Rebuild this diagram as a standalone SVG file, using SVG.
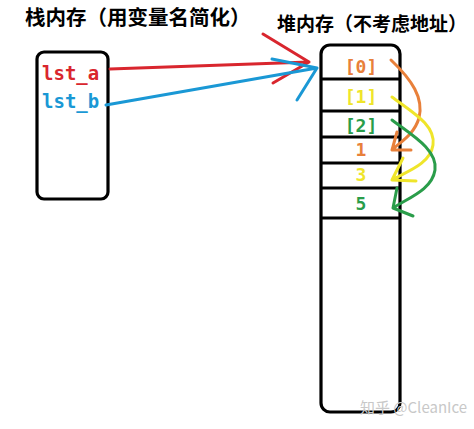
<svg xmlns="http://www.w3.org/2000/svg" width="474" height="429" viewBox="0 0 474 429">
<style>
.title{font-family:"Noto Sans CJK SC","Noto Sans",sans-serif;font-weight:bold;fill:#000}
.box{fill:#fff;stroke:#000;stroke-width:3.2}
.div{stroke:#000;stroke-width:3}
.var{font-family:"DejaVu Sans Mono",monospace;font-weight:bold;font-size:19px}
.cell{font-family:"DejaVu Sans Mono",monospace;font-weight:bold;font-size:18px;text-anchor:middle}
.ln{fill:none;stroke-width:3;stroke-linecap:round;stroke-linejoin:round}
.wm{font-family:"Noto Sans CJK SC","Noto Sans",sans-serif;font-size:15px;fill:#c8c8c8}
</style>
<rect width="474" height="429" fill="#fff"/>
<text class="title" x="25" y="25" font-size="20.5">栈内存（用变量名简化）</text>
<text class="title" x="277" y="31" font-size="19">堆内存（不考虑地址）</text>
<g id="stack">
<rect class="box" x="37" y="52" width="71" height="147" rx="7"/>
<text class="var" x="42" y="80" fill="#d9262e">lst_a</text>
<text class="var" x="42" y="108" fill="#1a98d5">lst_b</text>
</g>
<g id="heap">
<rect class="box" x="321" y="45" width="79" height="367" rx="9"/>
<line class="div" x1="321" y1="79" x2="400" y2="79"/>
<line class="div" x1="321" y1="111" x2="400" y2="111"/>
<line class="div" x1="321" y1="137" x2="400" y2="137"/>
<line class="div" x1="321" y1="163" x2="400" y2="163"/>
<line class="div" x1="321" y1="188" x2="400" y2="188"/>
<line class="div" x1="321" y1="218" x2="400" y2="218"/>
<text class="cell" x="361" y="73" fill="#e8803a">[0]</text>
<text class="cell" x="361" y="103" fill="#efe52a">[1]</text>
<text class="cell" x="361" y="132" fill="#2a9d4a">[2]</text>
<text class="cell" x="361" y="156" fill="#e8803a">1</text>
<text class="cell" x="361" y="181" fill="#efe52a">3</text>
<text class="cell" x="361" y="210" fill="#2a9d4a">5</text>
</g>
<g id="connectors">
<path class="ln" stroke="#d9262e" d="M110 69 L309 62 M263 34 L309 62 L273 83"/>
<path class="ln" stroke="#1a98d5" d="M106 105 L317 68 M272 59 L317 68 L297 100"/>
<path class="ln" stroke="#e8803a" d="M391 60 C412 80 424 98 419 118 C414 135 400 142 392 150 M397 132 L392 150 L411 150"/>
<path class="ln" stroke="#efe52a" d="M392 97 C412 112 436 125 433 145 C430 165 405 172 392 180 M403 158 L392 180 L416 181"/>
<path class="ln" stroke="#2a9d4a" d="M392 120 C412 135 438 150 435 170 C432 190 408 198 393 208 M397 188 L393 208 L413 216"/>
</g>
<text class="wm" x="360" y="413">知乎 @CleanIce</text>
</svg>
